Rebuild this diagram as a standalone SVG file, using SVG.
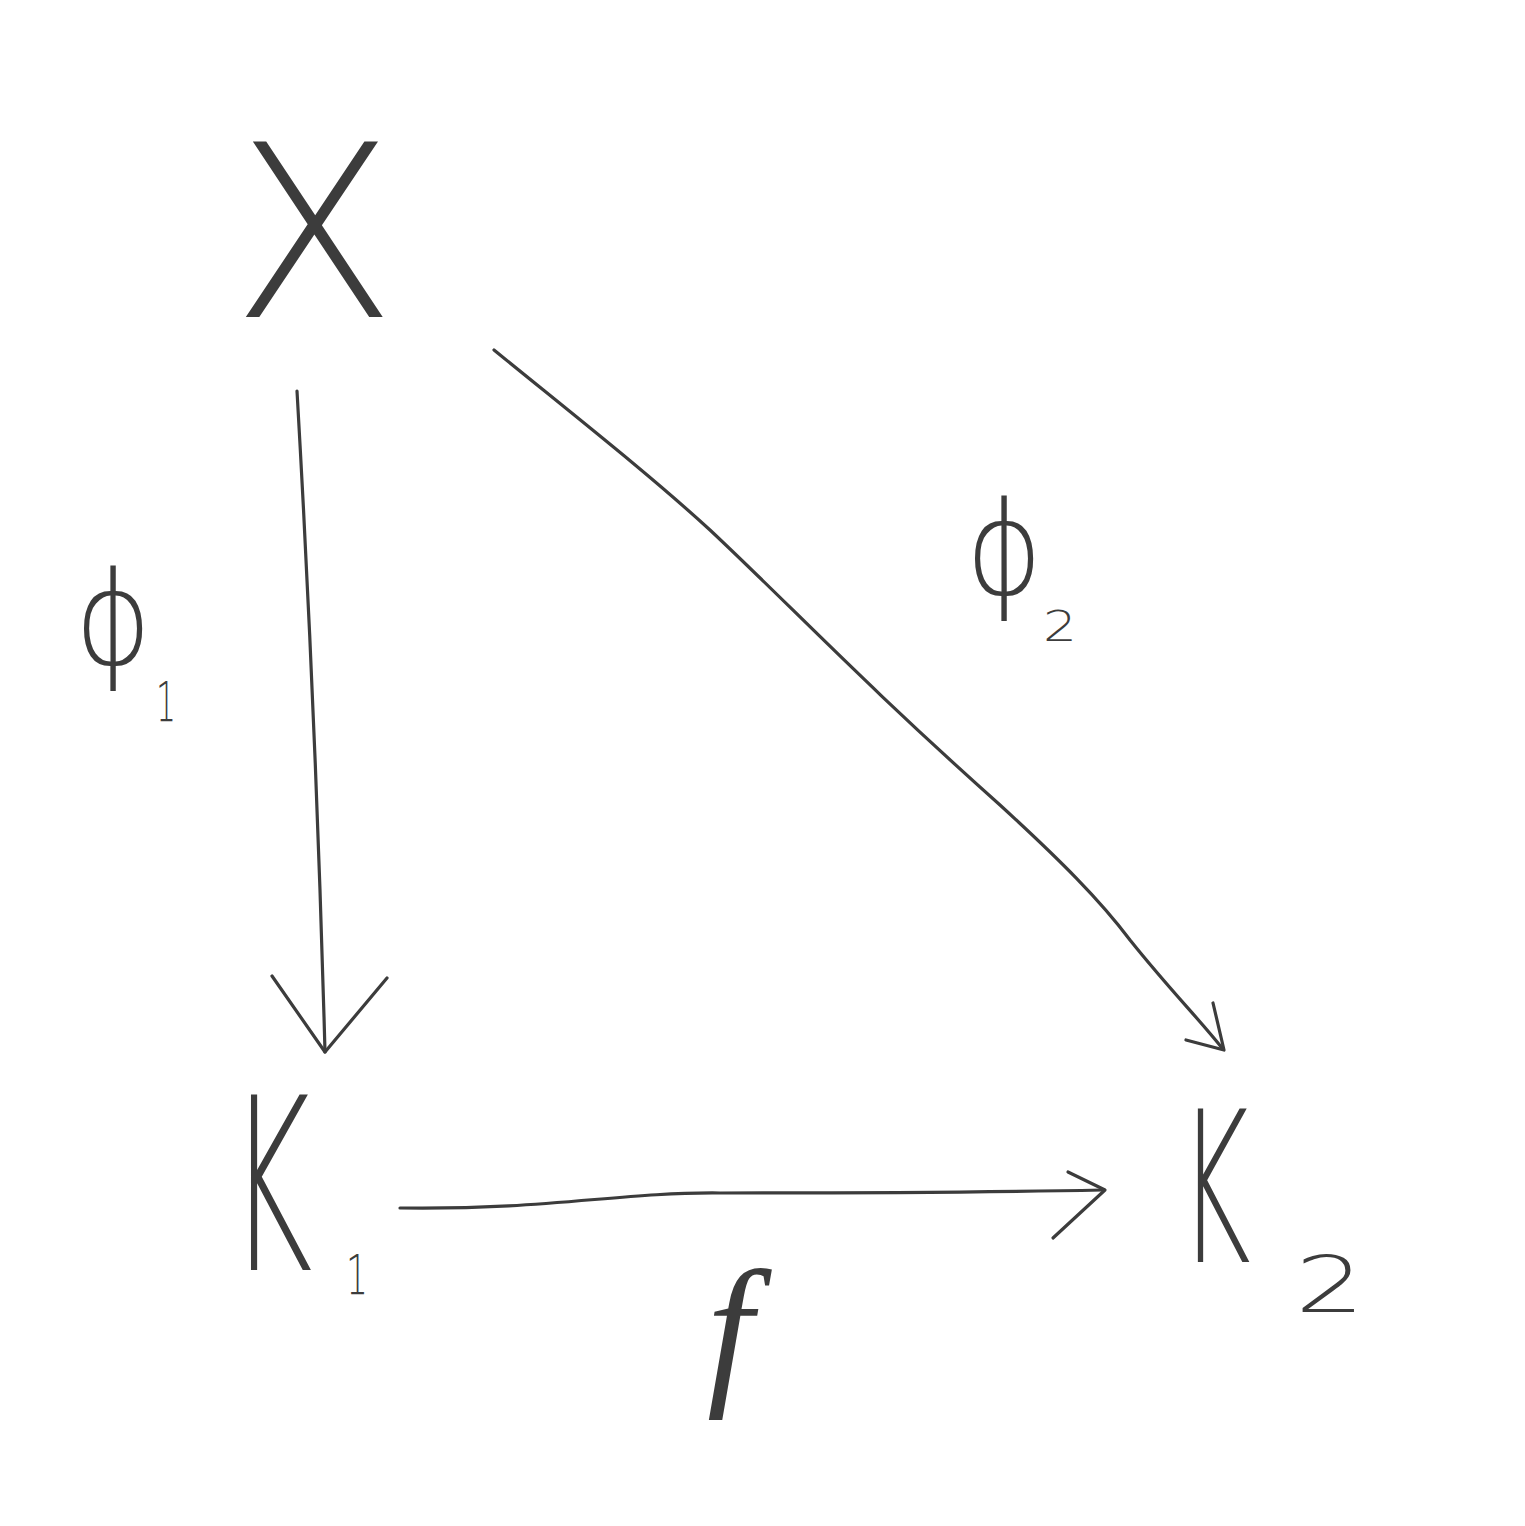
<svg xmlns="http://www.w3.org/2000/svg" width="1525" height="1526" viewBox="0 0 1525 1526">
<style>
.lbl{font-family:"DejaVu Sans","Liberation Sans",sans-serif;font-weight:200;fill:#3c3c3c}
.edge{fill:none;stroke:#3c3c3c;stroke-width:3.2;stroke-linecap:round;stroke-linejoin:round}
</style>
<rect width="1525" height="1526" fill="#ffffff"/>
<g id="node-X">
<text class="lbl" x="314" y="317" font-size="240" text-anchor="middle">X</text>
</g>
<g id="node-K1">
<text class="lbl" font-size="240" transform="translate(229,1270) scale(0.53,1)">K</text>
<text class="lbl" x="346" y="1294" font-size="56" textLength="22" lengthAdjust="spacingAndGlyphs">1</text>
</g>
<g id="node-K2">
<text class="lbl" font-size="210" transform="translate(1179,1262) scale(0.52,1)">K</text>
<text class="lbl" x="1295" y="1312" font-size="78" textLength="70" lengthAdjust="spacingAndGlyphs">2</text>
</g>
<g id="connectors">
<g id="edge-phi1">
<path class="edge" d="M297,391 Q316,720 325,1052"/>
<path class="edge" d="M272,976 L325,1052 L387,978"/>
<text class="lbl" font-size="130" text-anchor="middle" transform="translate(113,664) scale(0.9,1)">ϕ</text>
<text class="lbl" x="156" y="721" font-size="56" textLength="20" lengthAdjust="spacingAndGlyphs">1</text>
</g>
<g id="edge-phi2">
<path class="edge" d="M494,350 C580,420 650,475 710,530 C790,605 860,680 1000,805 C1060,860 1100,900 1130,940 C1170,990 1200,1020 1222,1048"/>
<path class="edge" d="M1186,1040 L1224,1050 L1213,1003"/>
<text class="lbl" font-size="130" text-anchor="middle" transform="translate(1004,594) scale(0.9,1)">ϕ</text>
<text class="lbl" x="1043" y="641" font-size="42" textLength="34" lengthAdjust="spacingAndGlyphs">2</text>
</g>
<g id="edge-f">
<path class="edge" d="M400,1208 C550,1210 620,1192 720,1193 C900,1193 1000,1192 1102,1190"/>
<path class="edge" d="M1068,1172 L1105,1190 L1053,1238"/>
<text x="730" y="1385" font-size="165" text-anchor="middle" font-family="Liberation Serif,serif" font-style="italic" fill="#3c3c3c">f</text>
</g>
</g>
</svg>
